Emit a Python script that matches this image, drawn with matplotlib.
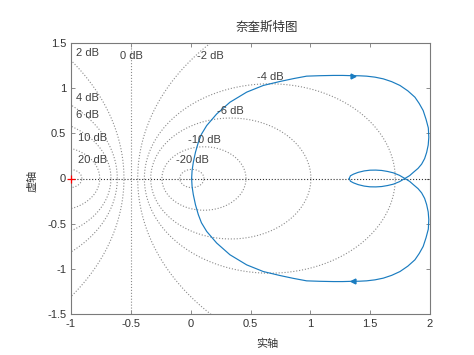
import numpy as np
import matplotlib
matplotlib.use("Agg")
import matplotlib.pyplot as plt

plt.rcParams['font.family'] = ['Liberation Sans', 'Noto Sans CJK SC', 'DejaVu Sans']
plt.rcParams['axes.unicode_minus'] = False

# Nyquist curve, omega >= 0 branch; the other branch is its mirror
re_pos = [1.325, 1.335, 1.36, 1.40, 1.45, 1.498, 1.547, 1.596, 1.645, 1.693, 1.745, 1.79,
          1.83, 1.86, 1.90, 1.93, 1.955, 1.972, 1.985, 1.99, 1.986, 1.967, 1.943, 1.91,
          1.874, 1.815, 1.749, 1.68, 1.61, 1.54, 1.47, 1.41, 1.353, 1.27, 1.191, 1.08,
          0.969, 0.86, 0.746, 0.607, 0.468, 0.328, 0.217, 0.134, 0.09, 0.064, 0.04,
          0.022, 0.012, 0.008]
im_pos = [0.0, 0.03, 0.048, 0.068, 0.084, 0.092, 0.093, 0.089, 0.078, 0.063, 0.035, 0.0,
          -0.032, -0.067, -0.112, -0.159, -0.22, -0.289, -0.37, -0.456, -0.56, -0.655, -0.752, -0.83,
          -0.9, -0.97, -1.03, -1.072, -1.103, -1.122, -1.133, -1.137, -1.138, -1.141, -1.141, -1.138,
          -1.133, -1.106, -1.074, -1.03, -0.956, -0.844, -0.714, -0.586, -0.49, -0.4, -0.29,
          -0.178, -0.09, 0.0]
arrow_idx = 32

# M-circle grid
m_db = [-20, -10, -6, -4, -2, 0, 2, 4, 6, 10, 20]
lab_text = ['-20 dB', '-10 dB', '-6 dB', '-4 dB', '-2 dB', '0 dB', '2 dB', '4 dB', '6 dB', '10 dB', '20 dB']
lab_x = [0.013, 0.115, 0.333, 0.662, 0.167, -0.496, -0.955, -0.955, -0.955, -0.94, -0.94]
lab_y = [0.20, 0.422, 0.747, 1.128, 1.359, 1.359, 1.39, 0.889, 0.70, 0.447, 0.20]
lab_ha = ['center'] * 6 + ['left'] * 5

fig = plt.figure(figsize=(4.74, 3.55), dpi=100)
ax = fig.add_axes([71/474, 1-314/355, 359/474, 271/355])

gc = '#8a8a8a'
th = np.linspace(0, 2*np.pi, 600)
for db in m_db:
    if db == 0:
        ax.plot([-0.5, -0.5], [-1.5, 1.5], ls=':', color=gc, lw=0.8)
        continue
    M = 10**(db/20.0)
    c = M**2/(1-M**2)
    r = abs(M/(1-M**2))
    ax.plot(c + r*np.cos(th), r*np.sin(th), ls=':', color=gc, lw=0.8)

ax.plot([-1, 2], [0, 0], ls=':', color='#333333', lw=0.8)

for t, x, y, ha in zip(lab_text, lab_x, lab_y, lab_ha):
    ax.text(x, y, t, fontsize=8, color='#404040', ha=ha, va='center')

re_pos = np.array(re_pos)
im_pos = np.array(im_pos)
blue = '#1a7cc0'
ax.plot(re_pos, im_pos, color=blue, lw=0.85)
ax.plot(re_pos, -im_pos, color=blue, lw=0.85)
ax.plot(re_pos[arrow_idx], im_pos[arrow_idx], marker='<', color=blue, ms=3.5)
ax.plot(re_pos[arrow_idx], -im_pos[arrow_idx], marker='>', color=blue, ms=3.5)

ax.plot(-1, 0, marker='+', color='red', ms=6, mew=0.9, clip_on=False, zorder=5)

ax.set_xlim(-1, 2)
ax.set_ylim(-1.5, 1.5)
ax.set_xticks([-1, -0.5, 0, 0.5, 1, 1.5, 2])
ax.set_xticklabels(['-1', '-0.5', '0', '0.5', '1', '1.5', '2'])
ax.set_yticks([-1.5, -1, -0.5, 0, 0.5, 1, 1.5])
ax.set_yticklabels(['-1.5', '-1', '-0.5', '0', '0.5', '1', '1.5'])
ax.tick_params(direction='in', length=3, width=0.6, colors='#7a7a7a',
               labelcolor='#333333', labelsize=8, top=True, right=True)
for s in ax.spines.values():
    s.set_color('#7a7a7a')
    s.set_linewidth(0.8)

ax.set_xlabel('实轴', fontsize=8, color='#333333')
ax.xaxis.set_label_coords((267-71)/359, -0.092)
ax.set_ylabel('虚轴', fontsize=8, color='#333333')
ax.yaxis.set_label_coords(-0.093, 0.49)
fig.text(267/474, 1-27.5/355, '奈奎斯特图', fontsize=9, color='#333333', ha='center', va='center')

fig.savefig('out.png', dpi=100)
